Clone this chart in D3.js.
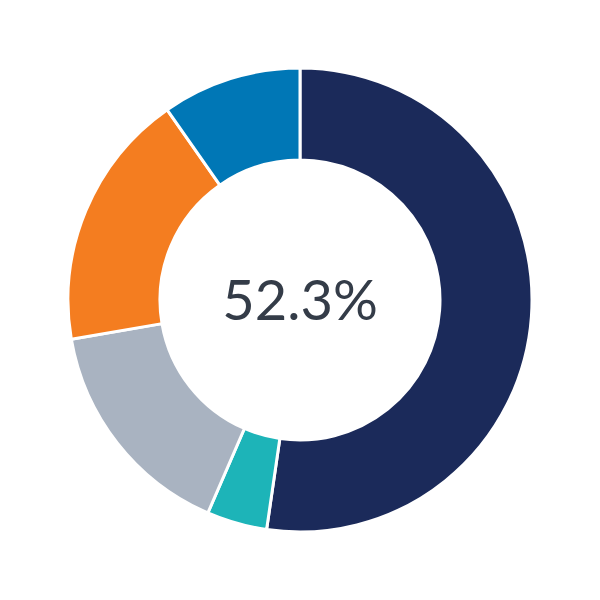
<!DOCTYPE html>
<html>
<head>
<meta charset="utf-8">
<script src="https://cdn.jsdelivr.net/npm/d3@7"></script>
<style>
  body { margin: 0; background: #fff; }
</style>
</head>
<body>
<div id="chart"></div>
<script>
// slice data, clockwise from 12 o'clock
var categories = ["A", "B", "C", "D", "E"];
var values = [52.3, 4.2, 15.8, 18.0, 9.7];
var colors = ["#1b2a5a", "#1db4b8", "#a9b3c1", "#f47d20", "#0077b6"];
var centerLabel = "52.3%";

var width = 600, height = 600;
var outerR = 232, innerR = 140;

var data = categories.map(function (c, i) { return { name: c, value: values[i] }; });

var svg = d3.select("#chart")
  .append("svg")
  .attr("width", width)
  .attr("height", height)
  .append("g")
  .attr("transform", "translate(" + width / 2 + "," + height / 2 + ")");

var color = d3.scaleOrdinal().domain(categories).range(colors);

var pie = d3.pie()
  .sort(null)
  .value(function (d) { return d.value; });

var arc = d3.arc()
  .innerRadius(innerR)
  .outerRadius(outerR);

svg.selectAll("path")
  .data(pie(data))
  .enter()
  .append("path")
  .attr("d", arc)
  .attr("fill", function (d) { return color(d.data.name); })
  .attr("stroke", "#fff")
  .attr("stroke-width", 3);

svg.append("text")
  .attr("text-anchor", "middle")
  .attr("dy", "0.36em")
  .attr("font-family", "Lato, sans-serif")
  .attr("font-size", 56)
  .attr("fill", "#343c48")
  .text(centerLabel);
</script>
</body>
</html>
